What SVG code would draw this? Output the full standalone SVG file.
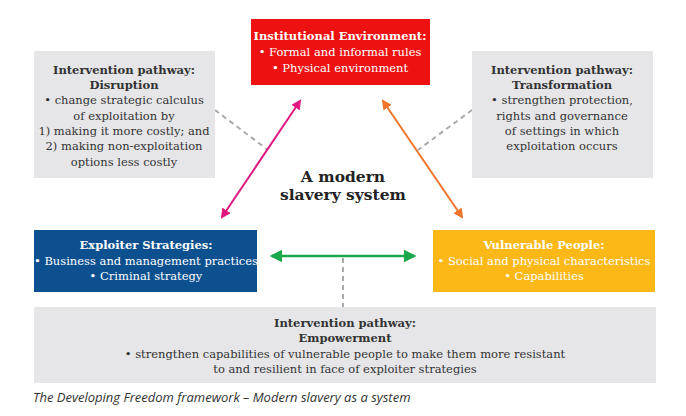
<svg xmlns="http://www.w3.org/2000/svg" width="686" height="416" viewBox="0 0 686 416">
<style>
text{font-family:"DejaVu Serif","Liberation Serif",serif;text-anchor:middle;font-size:11.5px}
.b{font-weight:bold}
.g{fill:#e6e6e8}
.d{stroke:#aaa;stroke-width:2;stroke-dasharray:5,4;fill:none}
.w{fill:#fff}
.k{fill:#333}
</style>
<defs>
<marker id="mp" viewBox="0 0 10 10" refX="8" refY="5" markerWidth="5" markerHeight="5" orient="auto-start-reverse"><path d="M0,0L10,5L0,10z" fill="#e0187f"/></marker>
<marker id="mo" viewBox="0 0 10 10" refX="8" refY="5" markerWidth="5" markerHeight="5" orient="auto-start-reverse"><path d="M0,0L10,5L0,10z" fill="#f0752a"/></marker>
<marker id="mg" viewBox="0 0 10 10" refX="8" refY="5" markerWidth="5" markerHeight="5" orient="auto-start-reverse"><path d="M0,0L10,5L0,10z" fill="#1aa84a"/></marker>
</defs>
<rect width="686" height="416" fill="#fff"/>
<g id="connectors">
<path class="d" d="M215,110L268,150"/>
<path class="d" d="M472,110L418,150"/>
<path class="d" d="M343,258V307"/>
<line x1="300" y1="101" x2="222" y2="217" stroke="#e0187f" stroke-width="2" marker-start="url(#mp)" marker-end="url(#mp)"/>
<line x1="383" y1="101" x2="462" y2="217" stroke="#f0752a" stroke-width="2" marker-start="url(#mo)" marker-end="url(#mo)"/>
<line x1="272" y1="256" x2="414" y2="256" stroke="#1aa84a" stroke-width="2.5" marker-start="url(#mg)" marker-end="url(#mg)"/>
</g>
<g id="institutional">
<rect x="251" y="19" width="179" height="66" fill="#ee1111"/>
<text x="340" y="40" class="b w">Institutional Environment:</text>
<text x="340" y="56" class="w">• Formal and informal rules</text>
<text x="340" y="72" class="w">• Physical environment</text>
</g>
<g id="disruption">
<rect x="34" y="51" width="181" height="127" class="g"/>
<text x="124" y="74" class="b k">Intervention pathway:</text>
<text x="124" y="89" class="b k">Disruption</text>
<text x="124" y="104" class="k">• change strategic calculus</text>
<text x="124" y="120" class="k">of exploitation by</text>
<text x="124" y="135" class="k">1) making it more costly; and</text>
<text x="124" y="150" class="k">2) making non-exploitation</text>
<text x="124" y="166" class="k">options less costly</text>
</g>
<g id="transformation">
<rect x="472" y="51" width="181" height="127" class="g"/>
<text x="562" y="74" class="b k">Intervention pathway:</text>
<text x="562" y="89" class="b k">Transformation</text>
<text x="562" y="104" class="k">• strengthen protection,</text>
<text x="562" y="120" class="k">rights and governance</text>
<text x="562" y="135" class="k">of settings in which</text>
<text x="562" y="150" class="k">exploitation occurs</text>
</g>
<g id="center">
<text x="343" y="182" class="b" style="font-size:15.5px" fill="#222">A modern</text>
<text x="343" y="200" class="b" style="font-size:15.5px" fill="#222">slavery system</text>
</g>
<g id="exploiter">
<rect x="34" y="230" width="223" height="62" fill="#0d5090"/>
<text x="146" y="249" class="b w">Exploiter Strategies:</text>
<text x="146" y="265" class="w">• Business and management practices</text>
<text x="146" y="280" class="w">• Criminal strategy</text>
</g>
<g id="vulnerable">
<rect x="433" y="230" width="222" height="62" fill="#fbb817"/>
<text x="544" y="249" class="b w">Vulnerable People:</text>
<text x="544" y="265" class="w">• Social and physical characteristics</text>
<text x="544" y="280" class="w">• Capabilities</text>
</g>
<g id="empowerment">
<rect x="34" y="307" width="622" height="76" class="g"/>
<text x="345" y="327" class="b k">Intervention pathway:</text>
<text x="345" y="342" class="b k">Empowerment</text>
<text x="345" y="358" class="k">• strengthen capabilities of vulnerable people to make them more resistant</text>
<text x="345" y="373" class="k">to and resilient in face of exploiter strategies</text>
</g>
<text x="33" y="402" style="text-anchor:start;font-family:'Open Sans','Liberation Sans',sans-serif;font-style:italic;font-size:13px" fill="#333">The Developing Freedom framework – Modern slavery as a system</text>
</svg>
